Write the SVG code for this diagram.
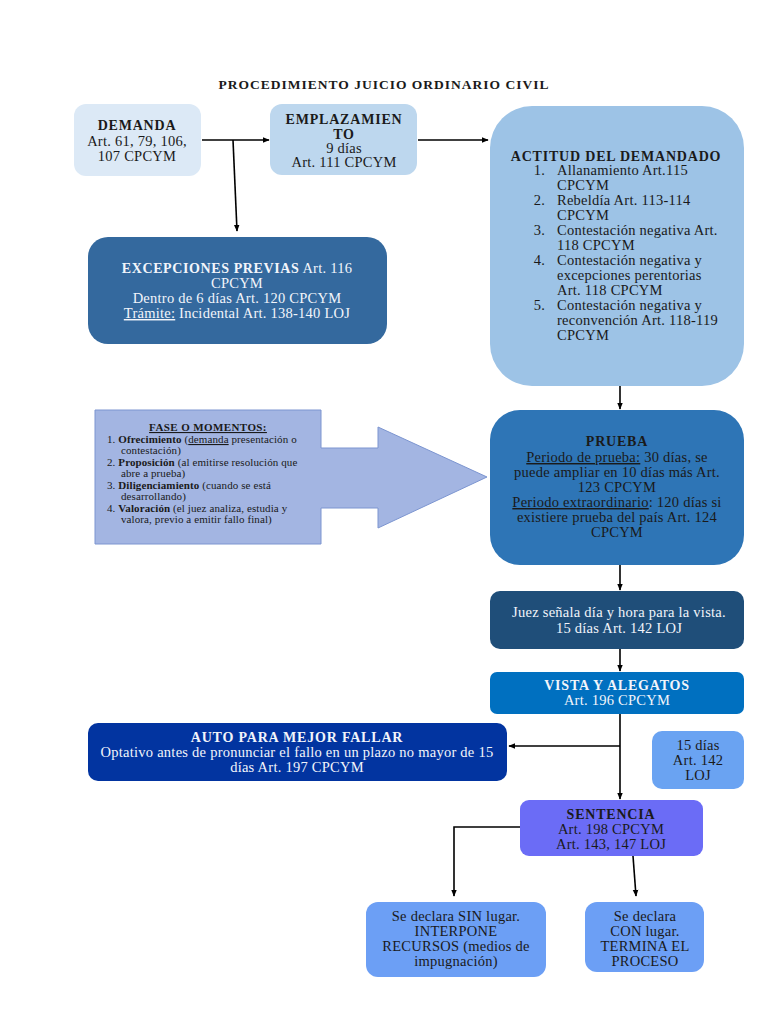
<svg xmlns="http://www.w3.org/2000/svg" width="768" height="1024" viewBox="0 0 768 1024">
<defs>
<style>
text{font-family:"Liberation Serif","Times New Roman",serif;font-size:14.5px;letter-spacing:0.25px;fill:#1a1a1a;text-anchor:middle}
.w{fill:#f2f5fb}
.b{font-weight:bold;font-size:14px;letter-spacing:0.8px}
.s{font-size:11px;letter-spacing:0.1px;text-anchor:start}
.l{text-anchor:start}
.e{text-anchor:end}
.u{text-decoration:underline}
.c{stroke:#000;stroke-width:1.6;fill:none}
</style>
<marker id="ah" viewBox="0 0 10 10" refX="9" refY="5" markerWidth="7" markerHeight="7" orient="auto" markerUnits="userSpaceOnUse">
<path d="M0,1 L10,5 L0,9 z" fill="#000"/>
</marker>
</defs>
<rect width="768" height="1024" fill="#fff"/>
<text x="384" y="89" class="b" style="font-size:13.5px;letter-spacing:1px">PROCEDIMIENTO JUICIO ORDINARIO CIVIL</text>

<g id="connectors">
<line class="c" x1="202" y1="140" x2="269" y2="140" marker-end="url(#ah)"/>
<line class="c" x1="233" y1="140" x2="237" y2="231" marker-end="url(#ah)"/>
<line class="c" x1="418" y1="140" x2="488" y2="140" marker-end="url(#ah)"/>
<line class="c" x1="620" y1="386" x2="620" y2="409" marker-end="url(#ah)"/>
<line class="c" x1="620" y1="565" x2="620" y2="590" marker-end="url(#ah)"/>
<line class="c" x1="620" y1="649" x2="620" y2="671" marker-end="url(#ah)"/>
<line class="c" x1="620" y1="714" x2="620" y2="799" marker-end="url(#ah)"/>
<line class="c" x1="620" y1="746" x2="509" y2="746" marker-end="url(#ah)"/>
<polyline class="c" points="520,827 454,827 454,896" marker-end="url(#ah)"/>
<line class="c" x1="633" y1="856" x2="636" y2="896" marker-end="url(#ah)"/>
</g>

<g id="demanda">
<rect x="74" y="104" width="127" height="72" rx="12" fill="#dce9f6"/>
<text x="137" y="130" class="b">DEMANDA</text>
<text x="137" y="146">Art. 61, 79, 106,</text>
<text x="137" y="161">107 CPCYM</text>
</g>

<g id="emplazamiento">
<rect x="270" y="104" width="147" height="71" rx="12" fill="#bdd7ee"/>
<text x="344" y="124" class="b">EMPLAZAMIEN</text>
<text x="344" y="139" class="b">TO</text>
<text x="344" y="153">9 días</text>
<text x="344" y="167">Art. 111 CPCYM</text>
</g>

<g id="actitud">
<rect x="490" y="106" width="254" height="280" rx="42" fill="#9dc3e6"/>
<text x="616" y="161" class="b">ACTITUD DEL DEMANDADO</text>
<text x="545" y="175" class="e">1.</text>
<text x="557" y="175" class="l">Allanamiento Art.115</text>
<text x="557" y="190" class="l">CPCYM</text>
<text x="545" y="205" class="e">2.</text>
<text x="557" y="205" class="l">Rebeldía Art. 113-114</text>
<text x="557" y="220" class="l">CPCYM</text>
<text x="545" y="235" class="e">3.</text>
<text x="557" y="235" class="l">Contestación negativa Art.</text>
<text x="557" y="250" class="l">118 CPCYM</text>
<text x="545" y="265" class="e">4.</text>
<text x="557" y="265" class="l">Contestación negativa y</text>
<text x="557" y="280" class="l">excepciones perentorias</text>
<text x="557" y="295" class="l">Art. 118 CPCYM</text>
<text x="545" y="310" class="e">5.</text>
<text x="557" y="310" class="l">Contestación negativa y</text>
<text x="557" y="325" class="l">reconvención Art. 118-119</text>
<text x="557" y="340" class="l">CPCYM</text>
</g>

<g id="excepciones">
<rect x="88" y="237" width="299" height="107" rx="20" fill="#34699e"/>
<text x="237" y="273" class="w"><tspan class="b" style="letter-spacing:0.6px">EXCEPCIONES PREVIAS</tspan> Art. 116</text>
<text x="237" y="288" class="w">CPCYM</text>
<text x="237" y="303" class="w">Dentro de 6 días Art. 120 CPCYM</text>
<text x="237" y="318" class="w"><tspan class="u">Trámite:</tspan> Incidental Art. 138-140 LOJ</text>
</g>

<g id="fase">
<path d="M95,410 H321 V448 H378 V427 L487,477 L378,528 V508 H321 V544 H95 Z" fill="#a3b5e2" stroke="#7c95d0" stroke-width="1"/>
<text x="208" y="431" class="b u" style="font-size:11px;letter-spacing:0.4px">FASE O MOMENTOS:</text>
<text x="107" y="443" class="s">1. <tspan font-weight="bold">Ofrecimiento</tspan> (<tspan class="u">demanda</tspan> presentación o</text>
<text x="121" y="454" class="s">contestación)</text>
<text x="107" y="466" class="s">2. <tspan font-weight="bold">Proposición</tspan> (al emitirse resolución que</text>
<text x="121" y="477" class="s">abre a prueba)</text>
<text x="107" y="489" class="s">3. <tspan font-weight="bold">Diligenciamiento</tspan> (cuando se está</text>
<text x="121" y="500" class="s">desarrollando)</text>
<text x="107" y="512" class="s">4. <tspan font-weight="bold">Valoración</tspan> (el juez analiza, estudia y</text>
<text x="121" y="523" class="s">valora, previo a emitir fallo final)</text>
</g>

<g id="prueba">
<rect x="490" y="410" width="254" height="155" rx="30" fill="#2e75b6"/>
<text x="617" y="446" class="b">PRUEBA</text>
<text x="617" y="462"><tspan class="u">Periodo de prueba:</tspan> 30 días, se</text>
<text x="617" y="477">puede ampliar en 10 días más Art.</text>
<text x="617" y="492">123 CPCYM</text>
<text x="617" y="507"><tspan class="u">Periodo extraordinario</tspan>: 120 días si</text>
<text x="617" y="522">existiere prueba del país Art. 124</text>
<text x="617" y="537">CPCYM</text>
</g>

<g id="juez">
<rect x="490" y="591" width="254" height="58" rx="10" fill="#1f4e79"/>
<text x="619" y="617" class="w">Juez señala día y hora para la vista.</text>
<text x="619" y="633" class="w">15 días Art. 142 LOJ</text>
</g>

<g id="vista">
<rect x="490" y="672" width="254" height="42" rx="7" fill="#0070c0"/>
<text x="617" y="690" class="w b">VISTA Y ALEGATOS</text>
<text x="617" y="705" class="w">Art. 196 CPCYM</text>
</g>

<g id="auto">
<rect x="88" y="723" width="419" height="58" rx="10" fill="#0234a0"/>
<text x="297" y="742" class="w b">AUTO PARA MEJOR FALLAR</text>
<text x="297" y="757" class="w">Optativo antes de pronunciar el fallo en un plazo no mayor de 15</text>
<text x="297" y="772" class="w">días Art. 197 CPCYM</text>
</g>

<g id="quince">
<rect x="652" y="731" width="92" height="58" rx="10" fill="#6aa3f2"/>
<text x="698" y="750">15 días</text>
<text x="698" y="765">Art. 142</text>
<text x="698" y="780">LOJ</text>
</g>

<g id="sentencia">
<rect x="520" y="800" width="183" height="56" rx="9" fill="#6b6cf6"/>
<text x="611" y="819" class="b">SENTENCIA</text>
<text x="611" y="834">Art. 198 CPCYM</text>
<text x="611" y="849">Art. 143, 147 LOJ</text>
</g>

<g id="sinlugar">
<rect x="366" y="902" width="180" height="75" rx="12" fill="#6c9ff5"/>
<text x="456" y="921">Se declara SIN lugar.</text>
<text x="456" y="936">INTERPONE</text>
<text x="456" y="951">RECURSOS (medios de</text>
<text x="456" y="966">impugnación)</text>
</g>

<g id="conlugar">
<rect x="585" y="902" width="119" height="70" rx="12" fill="#6c9ff5"/>
<text x="645" y="921">Se declara</text>
<text x="645" y="936">CON lugar.</text>
<text x="645" y="951">TERMINA EL</text>
<text x="645" y="966">PROCESO</text>
</g>
</svg>
